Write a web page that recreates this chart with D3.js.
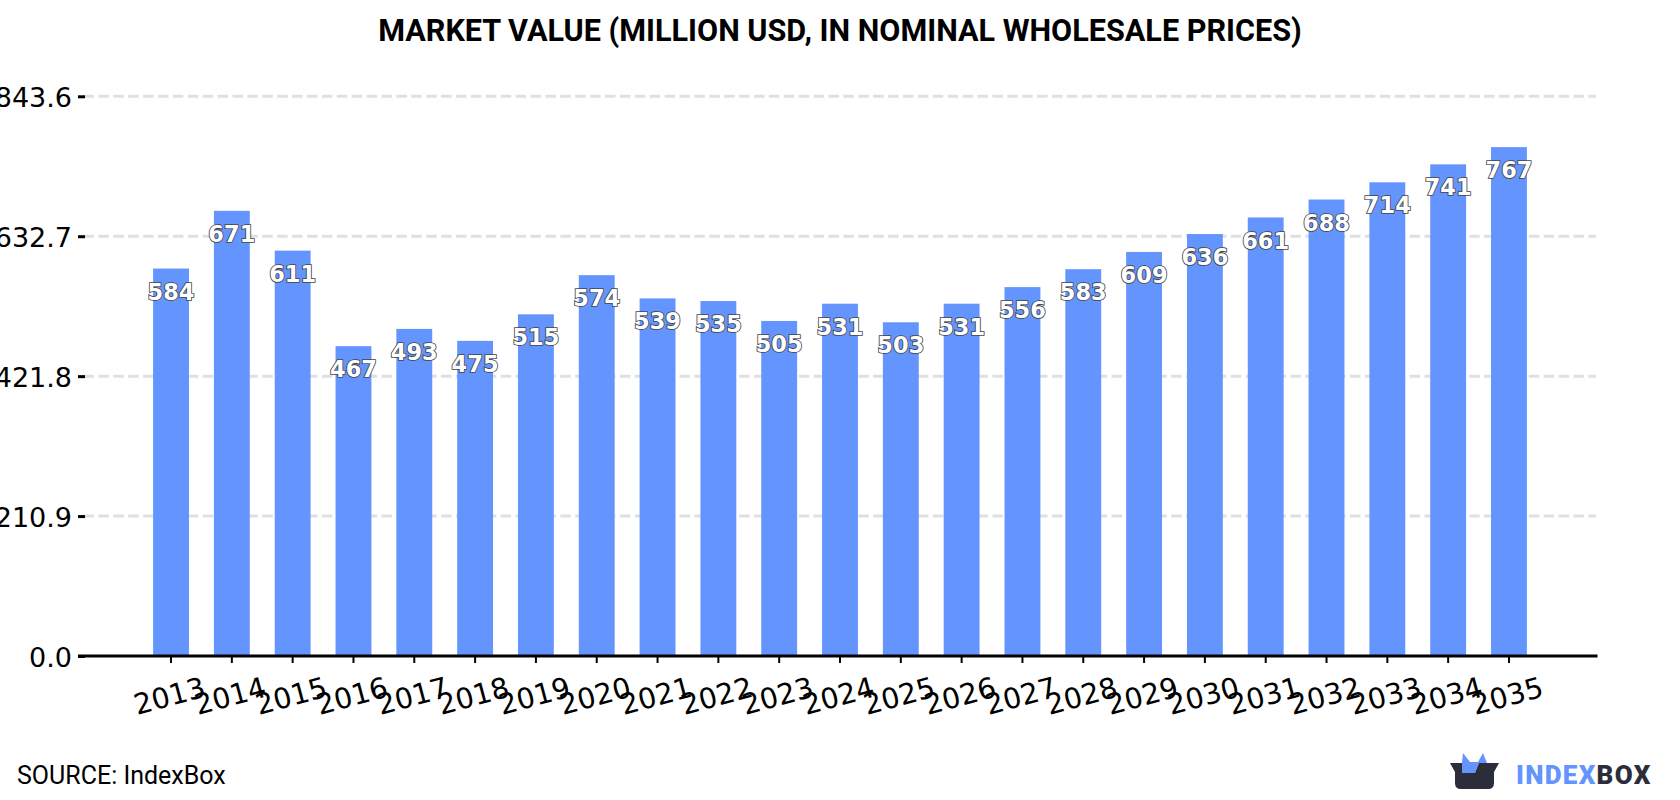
<!DOCTYPE html>
<html>
<head>
<meta charset="utf-8">
<script src="https://d3js.org/d3.v7.min.js"></script>
<style>
html, body { margin: 0; padding: 0; background: #fff; }
svg { display: block; }
</style>
</head>
<body>
<svg id="chart" width="1680" height="800"></svg>
<script>
// Market value series, million USD
const years = ["2013","2014","2015","2016","2017","2018","2019","2020","2021","2022","2023","2024","2025","2026","2027","2028","2029","2030","2031","2032","2033","2034","2035"];
const values = [584,671,611,467,493,475,515,574,539,535,505,531,503,531,556,583,609,636,661,688,714,741,767];
const yTicks = [0, 210.9, 421.8, 632.7, 843.6];
const titleText = "MARKET VALUE (MILLION USD, IN NOMINAL WHOLESALE PRICES)";
const sourceText = "SOURCE: IndexBox";

const svg = d3.select("#chart");
const axisLeft = 85, axisRight = 1597.5, axisStart = 78;
const y = d3.scaleLinear().domain([0, 843.6]).range([656, 96.3]);
const x = d3.scaleBand().domain(years).range([79.8, 1600.2]).paddingInner(0.41).paddingOuter(1.205);

svg.append("text").attr("x", 840).attr("y", 41).attr("text-anchor", "middle")
  .attr("font-family", "Roboto").attr("font-weight", 700).attr("font-size", 30.6).attr("fill", "#000")
  .text(titleText);

// Horizontal grid, skipping the baseline
svg.append("g").selectAll("line").data(yTicks.slice(1)).join("line")
  .attr("x1", axisLeft - 1.5).attr("x2", axisRight - 1.5)
  .attr("y1", d => y(d)).attr("y2", d => y(d))
  .attr("stroke", "#e0e0e0").attr("stroke-width", 3).attr("stroke-dasharray", "10.5 4.4");

// Bars
svg.append("g").selectAll("rect").data(values).join("rect")
  .attr("x", (d, i) => x(years[i])).attr("width", x.bandwidth())
  .attr("y", d => y(d)).attr("height", d => y(0) - y(d))
  .attr("fill", "#6495ff");

// Y axis
const gy = svg.append("g").attr("transform", `translate(${axisStart + 7},0)`)
  .call(d3.axisLeft(y).tickValues(yTicks).tickFormat(d3.format(".1f")).tickSize(7).tickPadding(6));
gy.select(".domain").remove();
gy.selectAll("line").attr("stroke", "#000").attr("stroke-width", 3);
gy.selectAll("text").attr("font-family", "DejaVu Sans").attr("font-size", 27).attr("fill", "#000").attr("dy", "0.37em");

// X axis
const gx = svg.append("g").attr("transform", "translate(0,656)")
  .call(d3.axisBottom(x).tickSize(7).tickPadding(0));
gx.select(".domain").remove();
gx.selectAll("line").attr("stroke", "#000").attr("stroke-width", 2);
gx.selectAll("text").attr("font-family", "DejaVu Sans").attr("font-size", 28.5).attr("fill", "#000")
  .attr("text-anchor", "middle").attr("dy", 0)
  .attr("transform", "translate(1,49.5) rotate(-15)").attr("y", 0);
svg.append("line").attr("x1", axisStart).attr("x2", axisRight).attr("y1", 656).attr("y2", 656)
  .attr("stroke", "#000").attr("stroke-width", 3);

// Value labels inside the bars
svg.append("g").selectAll("text").data(values).join("text")
  .attr("x", (d, i) => x(years[i]) + x.bandwidth() / 2)
  .attr("y", d => y(d) + 23).attr("dy", "0.36em").attr("text-anchor", "middle")
  .attr("font-family", "DejaVu Sans").attr("font-weight", 700).attr("font-size", 22.5)
  .attr("fill", "#fff").attr("stroke", "#444").attr("stroke-width", 1.7)
  .attr("paint-order", "stroke")
  .text(d => d);

svg.append("text").attr("x", 17).attr("y", 784)
  .attr("font-family", "Roboto").attr("font-size", 25).attr("fill", "#000").text(sourceText);

// IndexBox logo
const logo = svg.append("g").attr("transform", "translate(1450,752)");
logo.append("path").attr("d", "M12 21 L12 10 L13 1 L20 10 L28 10 L33 1 L37 11 L29 11 L25 21 Z").attr("fill", "#6495ff");
logo.append("path").attr("d", "M0 11 L12 11 L12 21 L25 21 L29 11 L49 11 L44 20 L44 31 Q44 37 38 37 L11 37 Q5 37 5 31 L5 20 Z").attr("fill", "#2b2d3b");
const brand = svg.append("text").attr("x", 1516).attr("y", 784)
  .attr("font-family", "Roboto").attr("font-weight", 900).attr("font-size", 26).attr("letter-spacing", 1.3);
brand.append("tspan").attr("fill", "#6495ff").text("INDEX");
brand.append("tspan").attr("fill", "#2b2d3b").text("BOX");
</script>
</body>
</html>
